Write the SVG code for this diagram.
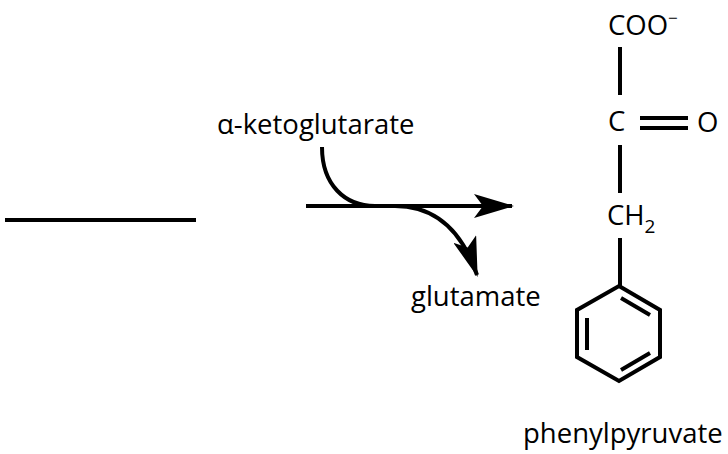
<svg xmlns="http://www.w3.org/2000/svg" width="728" height="454" viewBox="0 0 728 454">
<style>
text{font-family:"Open Sans","Noto Sans",sans-serif;font-size:27.5px;fill:#000}
.l{stroke:#000;stroke-width:4;fill:none}
</style>
<defs>
<marker id="ah2" viewBox="0 0 40 24" markerWidth="40" markerHeight="24" refX="38" refY="12" orient="auto" markerUnits="userSpaceOnUse">
<path d="M0,0 L40,12 L0,24 L9,12 Z" fill="#000"/>
</marker>
</defs>
<g id="blank"><line class="l" x1="5" y1="220" x2="196" y2="220"/></g>
<g id="connectors">
<line class="l" x1="306" y1="206" x2="512" y2="206" marker-end="url(#ah2)"/>
<path class="l" d="M322,147 C322,185 345,206 375,206"/>
<path class="l" d="M395,206 C430,206 460,225 477,275" marker-end="url(#ah2)"/>
</g>
<g id="akg"><text x="217" y="134">α-ketoglutarate</text></g>
<g id="glu"><text x="411" y="306">glutamate</text></g>
<g id="phenylpyruvate">
<text x="608" y="35">COO<tspan font-size="17" dy="-11">−</tspan></text>
<line class="l" x1="620" y1="47" x2="620" y2="95"/>
<text x="608" y="131">C</text>
<line class="l" x1="640" y1="118" x2="688" y2="118"/>
<line class="l" x1="640" y1="128" x2="688" y2="128"/>
<text x="697" y="132">O</text>
<line class="l" x1="620" y1="145" x2="620" y2="193"/>
<text x="607" y="225">CH<tspan font-size="19" dy="8">2</tspan></text>
<line class="l" x1="620" y1="238" x2="620" y2="286"/>
<polygon class="l" points="619,286 660,310 660,357 619,381 577,357 577,310"/>
<line class="l" x1="621" y1="298" x2="650" y2="315"/>
<line class="l" x1="587" y1="318" x2="587" y2="350"/>
<line class="l" x1="621" y1="370" x2="650" y2="353"/>
<text x="523" y="443">phenylpyruvate</text>
</g>
</svg>
